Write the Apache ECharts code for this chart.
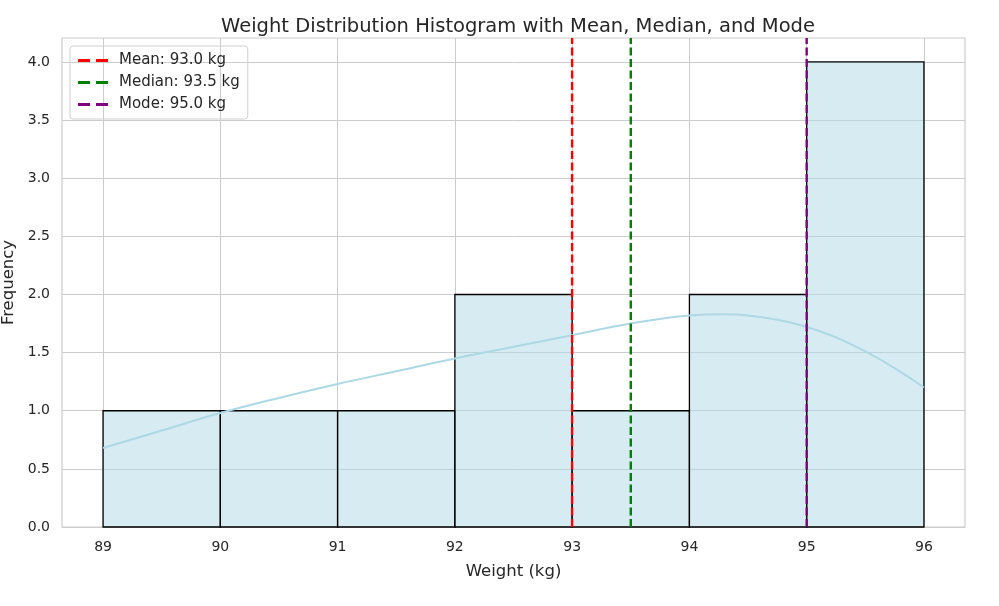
<!DOCTYPE html>
<html>
<head>
<meta charset="utf-8">
<script src="https://cdn.jsdelivr.net/npm/echarts@6/dist/echarts.min.js"></script>
<style>
  html, body { margin: 0; padding: 0; background: #fff; }
  #chart { width: 999px; height: 606px; }
</style>
</head>
<body>
<div id="chart"></div>
<script>
// histogram bins and counts
const binEdges = [89, 90, 91, 92, 93, 94, 95, 96];
const counts = [1, 1, 1, 2, 1, 2, 4];

// kde curve
const kdeX = [89, 89.5, 90, 90.5, 91, 91.5, 92, 92.5, 93, 93.5, 94, 94.3, 94.5, 95, 95.5, 96];
const kdeY = [0.68, 0.83, 0.98, 1.11, 1.23, 1.34, 1.45, 1.55, 1.65, 1.75, 1.82, 1.83, 1.82, 1.72, 1.51, 1.20];

// summary statistics
const statNames = ['Mean: 93.0 kg', 'Median: 93.5 kg', 'Mode: 95.0 kg'];
const statValues = [93.0, 93.5, 95.0];
const statColors = ['#ff0000', '#008000', '#800080'];

const xTicks = [89, 90, 91, 92, 93, 94, 95, 96];
const yTicks = [0, 0.5, 1, 1.5, 2, 2.5, 3, 3.5, 4];

const font = 'DejaVu Sans';
const yTop = 4.206;
const dashIcon = 'path://M0,0H10V2.4H0Z M15,0H25V2.4H15Z';

let bars = counts.map((c, i) => [binEdges[i], binEdges[i + 1], c]);

let statSeries = statValues.map((v, i) => ({
    name: statNames[i],
    type: 'line',
    data: [[v, 0], [v, yTop]],
    symbol: 'none',
    z: 5,
    lineStyle: { color: statColors[i], width: 2.4, type: [8, 3.5] },
    itemStyle: { color: statColors[i] }
}));

let chart = echarts.init(document.getElementById('chart'));
chart.setOption({
    animation: false,
    textStyle: { fontFamily: font },
    title: {
        text: 'Weight Distribution Histogram with Mean, Median, and Mode',
        left: 513,
        textAlign: 'center',
        top: 12,
        textStyle: { fontFamily: font, fontSize: 19.5, fontWeight: 'normal', color: '#262626' }
    },
    legend: {
        orient: 'vertical',
        left: 70,
        top: 46,
        padding: [7, 8, 7, 8],
        itemGap: 7,
        itemWidth: 30,
        itemHeight: 16,
        borderColor: '#d0d0d0',
        borderWidth: 1,
        borderRadius: 3,
        data: statNames.map((n, i) => ({ name: n, icon: dashIcon, itemStyle: { color: statColors[i] } })),
        textStyle: { fontFamily: font, fontSize: 15, color: '#262626', padding: [0, 0, 0, 6] }
    },
    grid: { left: 62, right: 34, top: 38, bottom: 79, outerBoundsMode: 'none',
        show: true, borderColor: '#cccccc', borderWidth: 1.2 },
    xAxis: {
        type: 'value',
        min: 88.65,
        max: 96.35,
        name: 'Weight (kg)',
        nameLocation: 'middle',
        nameGap: 36,
        nameTextStyle: { fontFamily: font, fontSize: 16.5, color: '#262626' },
        axisLine: { show: false },
        axisTick: { show: false, customValues: xTicks },
        axisLabel: { customValues: xTicks, fontSize: 14, color: '#262626', margin: 13 },
        splitLine: { show: true, lineStyle: { color: '#cccccc', width: 1 } }
    },
    yAxis: {
        type: 'value',
        min: 0,
        max: yTop,
        name: 'Frequency',
        nameLocation: 'middle',
        nameGap: 41,
        nameTextStyle: { fontFamily: font, fontSize: 16.5, color: '#262626' },
        axisLine: { show: false },
        axisTick: { show: false, customValues: yTicks },
        axisLabel: { customValues: yTicks, fontSize: 14, color: '#262626', margin: 12,
            formatter: v => v.toFixed(1) },
        splitLine: { show: true, lineStyle: { color: '#cccccc', width: 1 } }
    },
    series: [
        {
            type: 'custom',
            z: 2,
            data: bars,
            renderItem: function(params, api) {
                let p0 = api.coord([api.value(0), api.value(2)]);
                let p1 = api.coord([api.value(1), 0]);
                return {
                    type: 'rect',
                    shape: { x: p0[0], y: p0[1], width: p1[0] - p0[0], height: p1[1] - p0[1] },
                    style: { fill: 'rgba(173,216,230,0.5)', stroke: '#000', lineWidth: 1.3 }
                };
            }
        },
        {
            type: 'line',
            z: 3,
            data: kdeX.map((x, i) => [x, kdeY[i]]),
            smooth: 0.4,
            symbol: 'none',
            lineStyle: { color: '#add8e6', width: 2 }
        }
    ].concat(statSeries)
});
</script>
</body>
</html>
